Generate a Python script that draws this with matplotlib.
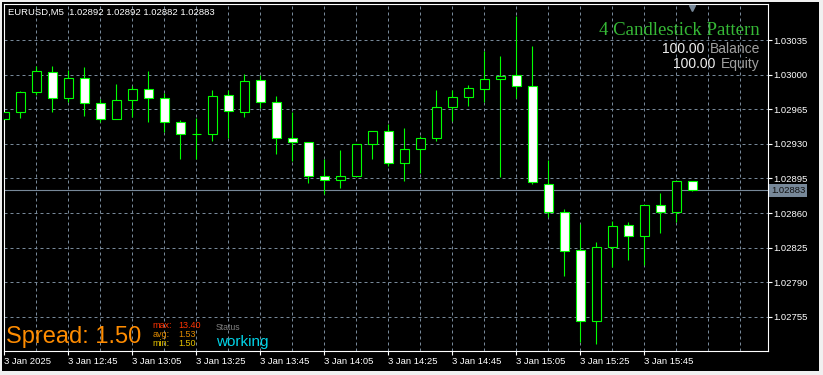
import matplotlib
matplotlib.use("Agg")
import matplotlib.pyplot as plt
import matplotlib.transforms as mtransforms
from matplotlib.patches import Rectangle

# M5 EURUSD candles, 3 Jan 2025 from 12:25
opens = [1.02955, 1.02962, 1.02982, 1.03003, 1.02976, 1.02997, 1.02971, 1.02955,
         1.02974, 1.02985, 1.02976, 1.02952, 1.02940, 1.02940, 1.02979, 1.02962,
         1.02995, 1.02972, 1.02936, 1.02932, 1.02898, 1.02893, 1.02898, 1.02930,
         1.02943, 1.02911, 1.02925, 1.02936, 1.02967, 1.02977, 1.02985, 1.02996,
         1.03000, 1.02989, 1.02889, 1.02861, 1.02823, 1.02751, 1.02826, 1.02848,
         1.02837, 1.02868, 1.02861, 1.02892]
highs = [1.02963, 1.02983, 1.03009, 1.03009, 1.03005, 1.03008, 1.02975, 1.02991,
         1.02988, 1.03004, 1.02981, 1.02954, 1.02956, 1.02984, 1.02984, 1.03001,
         1.03000, 1.02978, 1.02962, 1.02932, 1.02915, 1.02924, 1.02930, 1.02943,
         1.02950, 1.02946, 1.02938, 1.02984, 1.02984, 1.02990, 1.03024, 1.03019,
         1.03059, 1.03029, 1.02914, 1.02864, 1.02849, 1.02831, 1.02852, 1.02851,
         1.02868, 1.02880, 1.02892, 1.02892]
lows = [1.02954, 1.02956, 1.02979, 1.02962, 1.02972, 1.02958, 1.02952, 1.02955,
        1.02957, 1.02952, 1.02942, 1.02915, 1.02915, 1.02933, 1.02936, 1.02957,
        1.02966, 1.02920, 1.02913, 1.02890, 1.02879, 1.02885, 1.02898, 1.02915,
        1.02908, 1.02892, 1.02901, 1.02933, 1.02953, 1.02968, 1.02972, 1.02897,
        1.02976, 1.02889, 1.02856, 1.02796, 1.02730, 1.02728, 1.02806, 1.02813,
        1.02808, 1.02840, 1.02851, 1.02882]
closes = [1.02962, 1.02982, 1.03004, 1.02976, 1.02997, 1.02971, 1.02955, 1.02974,
          1.02985, 1.02976, 1.02952, 1.02940, 1.02940, 1.02978, 1.02963, 1.02994,
          1.02972, 1.02936, 1.02932, 1.02898, 1.02893, 1.02898, 1.02930, 1.02943,
          1.02911, 1.02925, 1.02936, 1.02967, 1.02977, 1.02986, 1.02996, 1.02999,
          1.02989, 1.02891, 1.02861, 1.02822, 1.02751, 1.02826, 1.02847, 1.02837,
          1.02868, 1.02861, 1.02892, 1.02883]

time_labels = ["3 Jan 2025", "3 Jan 12:45", "3 Jan 13:05", "3 Jan 13:25",
               "3 Jan 13:45", "3 Jan 14:05", "3 Jan 14:25", "3 Jan 14:45",
               "3 Jan 15:05", "3 Jan 15:25", "3 Jan 15:45"]
price_ticks = [1.02755, 1.02790, 1.02825, 1.02860, 1.02895, 1.02930,
               1.02965, 1.03000, 1.03035]
bid = 1.02883

W, H = 823, 375
GREEN = "#00FF00"
GRIDC = "#778899"
TICKFS = 6.8


def fx(x):
    return x / W


def fy(y):
    return 1 - y / H


fig = plt.figure(figsize=(W / 100, H / 100), dpi=100, facecolor="#f0f0f0")
fig.patches.append(Rectangle((fx(1.5), fy(371)), fx(819 - 1.5), (371 - 1.5) / H,
                             transform=fig.transFigure, facecolor="black",
                             edgecolor="none", zorder=0))

ax = fig.add_axes([fx(4), fy(351), fx(764), 347 / H])
ax.set_zorder(1)
ax.set_facecolor("black")
for s in ax.spines.values():
    s.set_color("white")
    s.set_linewidth(0.8)

n = len(opens)
ax.set_xlim(0, 47.75)
ax.set_ylim(1.027206, 1.030714)

# grid
ax.set_xticks(range(0, len(time_labels) * 4, 4))
ax.set_xticklabels(time_labels)
ax.set_xticks(range(0, 48, 2), minor=True)
ax.set_yticks(price_ticks)
ax.set_yticklabels(["%.5f" % p for p in price_ticks])
gkw = dict(color=GRIDC, linewidth=0.72, linestyle=(0, (3, 3)))
ax.grid(True, which="both", axis="x", **gkw)
ax.grid(True, which="major", axis="y", **gkw)
ax.set_axisbelow(True)

ax.yaxis.tick_right()
ax.tick_params(axis="both", which="major", colors="white", length=3, width=0.8,
               labelsize=TICKFS, pad=1)
ax.tick_params(axis="x", which="minor", length=0)
for lab in ax.get_xticklabels():
    lab.set_ha("left")
    lab.set_family("Liberation Sans")
for lab in ax.get_yticklabels():
    lab.set_family("Liberation Sans")

# bid line
ax.axhline(bid, color=GRIDC, linewidth=0.8, zorder=1.5)

# candles
w = 0.5625
for i in range(n):
    o, h, l, c = opens[i], highs[i], lows[i], closes[i]
    ax.vlines(i, l, h, color=GREEN, linewidth=0.8, zorder=2)
    if o == c:
        ax.hlines(o, i - w / 2, i + w / 2, color=GREEN, linewidth=0.8, zorder=3)
    else:
        fc = "white" if c < o else "black"
        ax.add_patch(Rectangle((i - w / 2, min(o, c)), w, abs(c - o),
                               facecolor=fc, edgecolor=GREEN, linewidth=0.8,
                               zorder=3))

# shift marker
ax.plot([n - 1], [0.988], marker="v", markersize=4.5, color=GRIDC,
        transform=mtransforms.blended_transform_factory(ax.transData, ax.transAxes),
        clip_on=False, zorder=5)

# bid price label
trans = mtransforms.offset_copy(
    mtransforms.blended_transform_factory(ax.transAxes, ax.transData),
    fig=fig, x=3.2, y=0, units="dots")
ax.text(1.0, bid, "%.5f" % bid, transform=trans, ha="left", va="center",
        fontsize=TICKFS, family="Liberation Sans", color="#111111",
        bbox=dict(boxstyle="square,pad=0.2", facecolor=GRIDC, edgecolor="none"),
        clip_on=False, zorder=6)

# header
fig.text(fx(8), fy(15), "EURUSD,M5  1.02892 1.02892 1.02882 1.02883",
         color="white", fontsize=TICKFS, family="Liberation Sans", va="baseline",
         zorder=5)
fig.text(fx(760), fy(35), "4 Candlestick Pattern", color="#36B936",
         fontsize=13.5, family="Liberation Serif", ha="right", va="baseline",
         zorder=5)

renderer = fig.canvas.get_renderer()
for yb, word in [(53.3, "Balance"), (68.3, "Equity")]:
    t = fig.text(fx(760), fy(yb), word, color="#A0A0A0", fontsize=10,
                 family="Liberation Sans", ha="right", va="baseline", zorder=5)
    x0 = t.get_window_extent(renderer).x0
    fig.text((x0 - 5.5) / W, fy(yb), "100.00", color="#EEEEEE", fontsize=10,
             family="Liberation Sans", ha="right", va="baseline", zorder=5)

# spread panel
fig.text(fx(6.5), fy(342.7), "Spread: 1.50", color="#FF8C00", fontsize=17,
         family="Liberation Sans", va="baseline", zorder=5)
for yb, lab, val, col in [(328.3, "max:", "13.40", "#FF3300"),
                          (336.7, "avg:", "1.53", "#E08A00"),
                          (345.5, "min:", "1.50", "#E6C300")]:
    fig.text(fx(152.7), fy(yb), lab, color=col, fontsize=6.5,
             family="Liberation Sans", va="baseline", zorder=5)
    fig.text(fx(178.7), fy(yb), val, color=col, fontsize=6.5,
             family="Liberation Sans", va="baseline", zorder=5)
fig.text(fx(216), fy(330), "Status", color="#808080", fontsize=6.3,
         family="Liberation Sans", va="baseline", zorder=5)
fig.text(fx(216.5), fy(346), "working", color="#00D4E8", fontsize=11,
         family="Liberation Sans", va="baseline", zorder=5)

fig.savefig("out.png", dpi=100, facecolor=fig.get_facecolor())
